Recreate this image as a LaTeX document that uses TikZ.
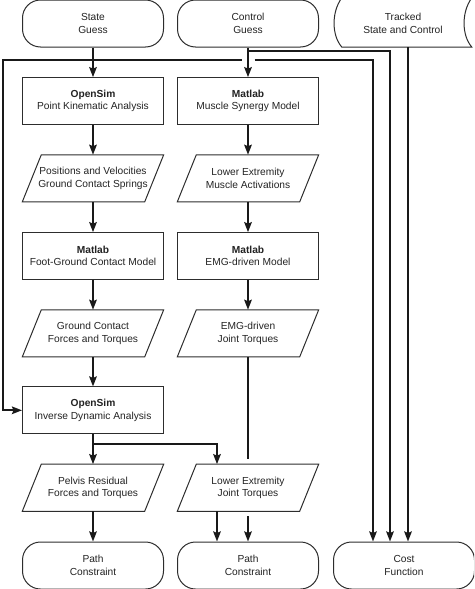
\documentclass[tikz,border=0pt]{standalone}
\usepackage{fontspec}
\setmainfont{Liberation Sans}
\usetikzlibrary{arrows.meta}
\definecolor{ink}{RGB}{25,25,25}
\definecolor{edge}{RGB}{45,45,45}
\definecolor{txt}{RGB}{35,35,35}
\begin{document}
\begin{tikzpicture}[x=1pt,y=-1pt,
  lbl/.style={align=center,font=\fontsize{10.2}{12.4}\selectfont,text=txt,inner sep=0pt},
  box/.style={lbl,draw=edge,line width=1pt,fill=white,minimum width=141pt,minimum height=46.7pt},
  term/.style={box,rounded corners=18pt,minimum height=47pt},
  proc/.style={box},
  io/.style={lbl,minimum width=122pt,minimum height=46.7pt},
  outline/.style={draw=edge,line width=1pt},
  conn/.style={draw=ink,line width=2pt},
  arr/.style={conn,-{Stealth[length=10pt,width=7.5pt,inset=1.5pt]}}]
\useasboundingbox (0,0) rectangle (474,589);
\clip (0,0) rectangle (474,589);

% top row
\node[term] (sg) at (93,23.5) {State\\Guess};
\node[term] (cg) at (248,23.5) {Control\\Guess};
\node[lbl,minimum width=130pt,minimum height=47pt] (tr) at (403,23.5) {Tracked\\State and Control};
\draw[outline] (341.7,-2) .. controls (331.5,12) and (331.5,35) .. (341.7,47)
  -- (471.7,47) .. controls (461.5,35) and (461.5,12) .. (471.7,-2);

% process boxes
\node[proc] (pka) at (93,101) {\textbf{OpenSim}\\Point Kinematic Analysis};
\node[proc] (msm) at (248,101) {\textbf{Matlab}\\Muscle Synergy Model};
\node[proc] (fgcm) at (93,256) {\textbf{Matlab}\\Foot-Ground Contact Model};
\node[proc] (emgm) at (248,256) {\textbf{Matlab}\\EMG-driven Model};
\node[proc] (id) at (93,410.3) {\textbf{OpenSim}\\Inverse Dynamic Analysis};

% data (parallelogram) nodes
\node[io] (pos) at (93,178.3) {Positions and Velocities\\Ground Contact Springs};
\node[io] (lema) at (248,178.3) {Lower Extremity\\Muscle Activations};
\node[io] (gcft) at (93,333.3) {Ground Contact\\Forces and Torques};
\node[io] (emgt) at (248,333.3) {EMG-driven\\Joint Torques};
\node[io] (prft) at (93,487.7) {Pelvis Residual\\Forces and Torques};
\node[io] (lejt) at (248,487.7) {Lower Extremity\\Joint Torques};
\foreach \n in {pos,lema,gcft,emgt,prft,lejt}
  \draw[outline] ([xshift=-9.5pt]\n.south west) -- ([xshift=-9.5pt]\n.south east)
    -- ([xshift=9.5pt]\n.north east) -- ([xshift=9.5pt]\n.north west) -- cycle;

% bottom row
\node[term] (pc1) at (93,565.5) {Path\\Constraint};
\node[term] (pc2) at (248,565.5) {Path\\Constraint};
\node[term] (cf) at (404,565.5) {Cost\\Function};

% junction coordinates
\coordinate (sj) at (93,60);
\coordinate (lf) at (3,60);
\coordinate (hl) at (241.5,60);
\coordinate (hr) at (254.5,60);
\coordinate (cj) at (248,51);
\coordinate (ij) at (93,444);

% state guess branches
\draw[arr] (sg) -- (pka);
\draw[arr] (sj) -- (lf) |- (id.west);
\draw[conn] (sj) -- (hl);
\draw[arr] (hr) -| ([xshift=-31pt]cf.north);

% control guess branches
\draw[arr] (cg) -- (msm);
\draw[arr] (cj) -| ([xshift=-14pt]cf.north);

% tracked
\draw[arr] ([xshift=5pt]tr.south) -- ([xshift=5pt]tr.south |- cf.north);

% left column
\draw[arr] (pka) -- (pos);
\draw[arr] (pos) -- (fgcm);
\draw[arr] (fgcm) -- (gcft);
\draw[arr] (gcft) -- (id);
\draw[arr] (id) -- (prft);
\draw[arr] (ij) -| ([xshift=-31pt]lejt.north);
\draw[arr] (prft) -- (pc1);

% middle column
\draw[arr] (msm) -- (lema);
\draw[arr] (lema) -- (emgm);
\draw[arr] (emgm) -- (emgt);
\draw[conn] (emgt) -- ([yshift=5pt]lejt.north);
\draw[arr] ([yshift=-5pt]lejt.south) -- (pc2);
\draw[arr] ([xshift=-31pt]lejt.south) -- ([xshift=-31pt]pc2.north);
\end{tikzpicture}
\end{document}
